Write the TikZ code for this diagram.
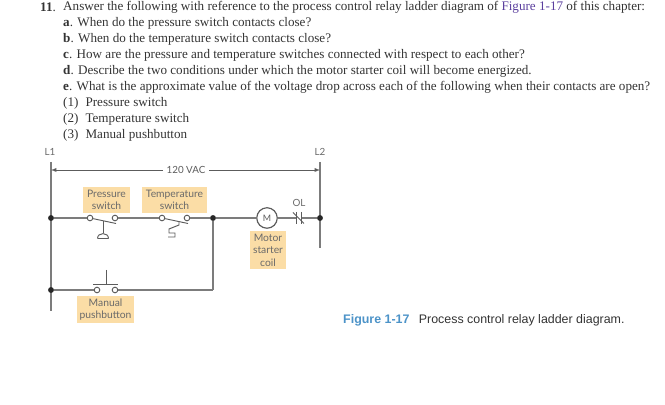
\documentclass[tikz,border=0pt]{standalone}
\usepackage{xcolor}
\usepackage{fontspec}
\setmainfont{Liberation Serif}
\newfontfamily\labelfont{Lato}
\newfontfamily\capfont{Liberation Sans}
\definecolor{wiregray}{HTML}{7C7C7C}
\definecolor{labelgray}{HTML}{6A6A6A}
\definecolor{labelfill}{HTML}{FBDDA6}
\definecolor{inkdark}{HTML}{333333}
\definecolor{linkpurple}{HTML}{5B3F9E}
\definecolor{capblue}{HTML}{4C93C8}
\tikzset{
	qline/.style={black!80, anchor=west, inner sep=0pt, font=\fontsize{11.2pt}{13pt}\selectfont},
	tag/.style={fill=labelfill, text=labelgray, inner sep=0pt, align=center, font=\labelfont\fontsize{8.8pt}{10.6pt}\selectfont},
	wire/.style={draw=wiregray, line width=0.95pt},
	sym/.style={draw=inkdark!80, line width=0.8pt},
	contact/.style={circle, draw=inkdark!80, fill=white, line width=0.8pt, minimum size=4.8pt, inner sep=0pt},
	junction/.style={circle, fill=black!85, minimum size=5pt, inner sep=0pt},
	plain/.style={text=labelgray, inner sep=0pt, font=\labelfont\fontsize{8.4pt}{9pt}\selectfont},
}
\begin{document}
\begin{tikzpicture}[x=0.03cm, y=-0.03cm]
	\useasboundingbox (0,0) rectangle (665,405);
	% questions
	\node[qline] (q0) at (40,7) {\textbf{11}.};
	\node[qline] (q1) at (63,7) {Answer the following with reference to the process control relay ladder diagram of \textcolor{linkpurple}{Figure 1-17} of this chapter:};
	\node[qline] (qa) at (63,23) {\textbf{a}. When do the pressure switch contacts close?};
	\node[qline] (qb) at (63,39) {\textbf{b}. When do the temperature switch contacts close?};
	\node[qline] (qc) at (63,55) {\textbf{c}. How are the pressure and temperature switches connected with respect to each other?};
	\node[qline] (qd) at (63,71) {\textbf{d}. Describe the two conditions under which the motor starter coil will become energized.};
	\node[qline] (qe) at (63,87) {\textbf{e}. What is the approximate value of the voltage drop across each of the following when their contacts are open?};
	\node[qline] (qf) at (63,103) {(1)\hspace{6pt}Pressure switch};
	\node[qline] (qg) at (63,119) {(2)\hspace{6pt}Temperature switch};
	\node[qline] (qh) at (63,135) {(3)\hspace{6pt}Manual pushbutton};
	% bus
	\node[plain] (l1) at (50,152) {L1};
	\node[plain] (l2) at (320,152) {L2};
	\coordinate (l1top) at (51,162);
	\coordinate (l1bot) at (51,311);
	\coordinate (l2top) at (320,162);
	\coordinate (l2bot) at (320,248);
	\draw[wire] (l1top) -- (l1bot);
	\draw[wire] (l2top) -- (l2bot);
	% voltage
	\node[plain, text=inkdark!80, inner xsep=3pt] (vac) at (186,170) {120 VAC};
	\coordinate (arrl) at (51,170);
	\coordinate (arrr) at (320,170);
	\draw[draw=inkdark!80, -latex, line width=0.6pt] (vac) -- (arrl);
	\draw[draw=inkdark!80, -latex, line width=0.6pt] (vac) -- (arrr);
	% labels
	\node[tag, minimum width=47*0.03cm, minimum height=26*0.03cm] (ptag) at (106.5,200) {Pressure\\switch};
	\node[tag, minimum width=65*0.03cm, minimum height=26*0.03cm] (ttag) at (174.5,200) {Temperature\\switch};
	\node[tag, minimum width=57*0.03cm, minimum height=27*0.03cm] (mtag) at (105.5,309.5) {Manual\\pushbutton};
	\node[tag, minimum width=36*0.03cm, minimum height=38*0.03cm] (ctag) at (268,250) {Motor\\starter\\coil};
	\node[plain] (ol) at (299,203) {OL};
	% rung nodes
	\node[junction] (j1) at (51,218) {};
	\node[junction] (j2) at (51,290) {};
	\node[junction] (j3) at (213,218) {};
	\node[junction] (j4) at (320,218) {};
	\coordinate (j5) at (213,290);
	\node[contact] (pl) at (90,218) {};
	\node[contact] (pr) at (115,218) {};
	\node[contact] (tl) at (162,218) {};
	\node[contact] (tr) at (187,218) {};
	\node[contact] (ml) at (97,290) {};
	\node[contact] (mr) at (115,290) {};
	\node[circle, draw=inkdark!80, fill=white, line width=1pt, minimum size=17.5pt, inner sep=0pt, text=inkdark!80, font=\labelfont\fontsize{7.6pt}{8pt}\selectfont] (coil) at (267,218) {M};
	\coordinate (oll) at (296,218);
	\coordinate (olr) at (301,218);
	% wires
	\draw[wire] (j1) -- (pl);
	\draw[wire] (pr) -- (tl);
	\draw[wire] (tr) -- (j3);
	\draw[wire] (j3) -- (coil);
	\draw[wire] (coil) -- (oll);
	\draw[wire] (olr) -- (j4);
	\draw[wire] (j2) -- (ml);
	\draw[wire] (mr) -- (j5);
	\draw[wire] (j5) -- (j3);
	% pressure symbol
	\draw[sym] (pl) -- (116,223.5);
	\draw[sym] (103,221.5) -- (103,233);
	\draw[sym] (97.5,238.5) -- (108.5,238.5) (97.5,238.5) .. controls (97.5,232) and (108.5,232) .. (108.5,238.5);
	% temperature symbol
	\draw[sym] (tl) -- (188,223.5);
	\draw[sym] (179,221.5) -- (179,225) -- (169,229) -- (169,233) -- (175,233) -- (175,237) -- (168,237);
	% pushbutton symbol
	\draw[sym] (93,284) -- (118,284);
	\draw[sym] (106,270) -- (106,284);
	% overload symbol
	\draw[sym] (296,212) -- (296,224);
	\draw[sym] (301,212) -- (301,224);
	\draw[sym] (293,212.5) -- (304,223.5);
	% caption
	\node[anchor=west, inner sep=0pt, font=\capfont\fontsize{10.6pt}{12pt}\selectfont] (cap) at (343,320) {\textcolor{capblue}{\textbf{Figure 1-17}}\hspace{8pt}\textcolor{inkdark}{Process control relay ladder diagram.}};
\end{tikzpicture}
\end{document}
